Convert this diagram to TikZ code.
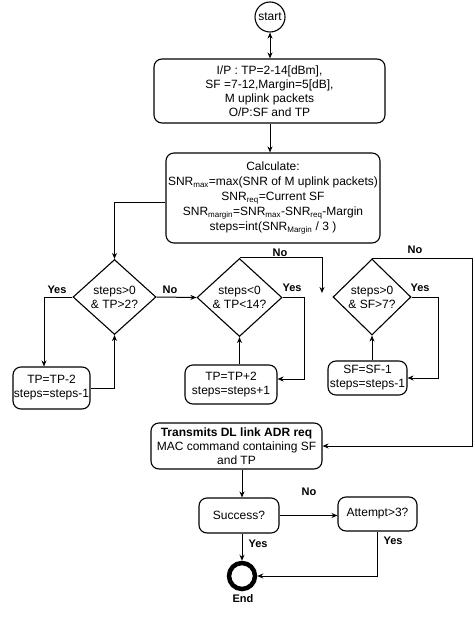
\documentclass[tikz,border=0pt]{standalone}
\usepackage{fontspec}
\setmainfont{Liberation Sans}
\usetikzlibrary{shapes.geometric,arrows.meta}
\begin{document}
\begin{tikzpicture}[x=1pt,y=-1pt,
  box/.style={draw,line width=1.1pt,rounded corners=8pt,align=center,inner sep=0pt,
    font=\fontsize{12}{14}\selectfont},
  dia/.style={draw,line width=1.1pt,diamond,aspect=1.1,align=center,inner sep=0pt,
    font=\fontsize{12}{14}\selectfont},
  arr/.style={line width=1pt,-{Stealth[length=6pt,width=5pt]}},
  lbl/.style={font=\fontsize{11}{13}\selectfont\bfseries,inner sep=0pt}]
\useasboundingbox (0,0) rectangle (474,631);
\node[draw,circle,line width=1.1pt,minimum size=30pt,inner sep=0pt,font=\fontsize{12}{14}\selectfont] (start) at (270,17) {start};
\node[box,minimum width=231pt,minimum height=64pt] (ip) at (269.5,91)
  {I/P : TP=2-14[dBm],\\SF =7-12,Margin=5[dB],\\M uplink packets\\O/P:SF and TP};
\node[box,minimum width=214pt,minimum height=90pt,font=\fontsize{12}{15}\selectfont] (calc) at (273,198)
  {Calculate:\\SNR\textsubscript{max}=max(SNR of M uplink packets)\\SNR\textsubscript{req}=Current SF\\SNR\textsubscript{margin}=SNR\textsubscript{max}-SNR\textsubscript{req}-Margin\\steps=int(SNR\textsubscript{Margin} / 3 )};
\node[dia,minimum width=83pt,minimum height=75pt] (d1) at (114.5,297) {steps>0\\\& TP>2?};
\node[dia,minimum width=85pt,minimum height=78pt] (d2) at (239.5,297.5) {steps<0\\\& TP<14?};
\node[dia,minimum width=78pt,minimum height=76pt] (d3) at (372,297) {steps>0\\\& SF>7?};
\node[box,minimum width=77pt,minimum height=42pt] (b1) at (51.5,388) {TP=TP-2\\steps=steps-1};
\node[box,minimum width=92pt,minimum height=39pt] (b2) at (231,384.5) {TP=TP+2\\steps=steps+1};
\node[box,minimum width=79pt,minimum height=34pt] (b3) at (367.5,378) {SF=SF-1\\steps=steps-1};
\node[box,minimum width=171pt,minimum height=46pt] (tx) at (236.5,446)
  {\textbf{Transmits DL link ADR req}\\MAC command containing SF\\and TP};
\node[box,minimum width=80pt,minimum height=35pt] (succ) at (239,515.5) {Success?};
\node[box,minimum width=79pt,minimum height=34pt] (att) at (377.5,514) {Attempt>3?};
\node[draw,circle,line width=4.5pt,minimum size=26pt,inner sep=0pt] (end) at (242,576) {};
\coordinate (d3in) at (322,293);
% connectors
\draw[line width=1pt,{Stealth[length=6pt,width=5pt]}-{Stealth[length=6pt,width=5pt]}] (start) -- (ip.north -| start);
\draw[arr] (ip.south -| start) -- (calc.north -| start);
\draw[arr] ([yshift=-4pt]calc.west) -| (d1.north);
\draw[arr] (d1.west) -| ([xshift=-7.5pt]b1.north);
\draw[arr] (b1.east) -| (d1.south);
\draw[arr] (d1.east) -- (d2.west);
\draw[arr] (d2.east) -- ++(22,0) |- ([yshift=5.5pt]b2.east);
\draw[arr] (d2.south |- b2.north) -- (d2.south);
\draw[arr] (d2.north) -| (d3in);
\draw[arr] (d3.east) -- ++(27,0) |- (b3.east);
\draw[arr] (d3.south |- b3.north) -- (d3.south);
\draw[arr] (d3.north) -- ++(100,0) |- (tx.east);
\draw[arr] (end.north |- tx.south) -- (end.north |- succ.north);
\draw[arr] (succ.east) -- (succ.east -| att.west);
\draw[arr] (end.north |- succ.south) -- (end.north);
\draw[arr] (att.south) |- (end.east);
% labels
\node[lbl] (l1) at (57,290) {Yes};
\node[lbl] (l2) at (170,290) {No};
\node[lbl] (l3) at (292,288) {Yes};
\node[lbl] (l4) at (280,253) {No};
\node[lbl] (l5) at (420,288) {Yes};
\node[lbl] (l6) at (415,250) {No};
\node[lbl] (l7) at (309,492) {No};
\node[lbl] (l8) at (258,544) {Yes};
\node[lbl] (l9) at (393,541) {Yes};
\node[lbl] (l10) at (243,599) {End};
\end{tikzpicture}
\end{document}
